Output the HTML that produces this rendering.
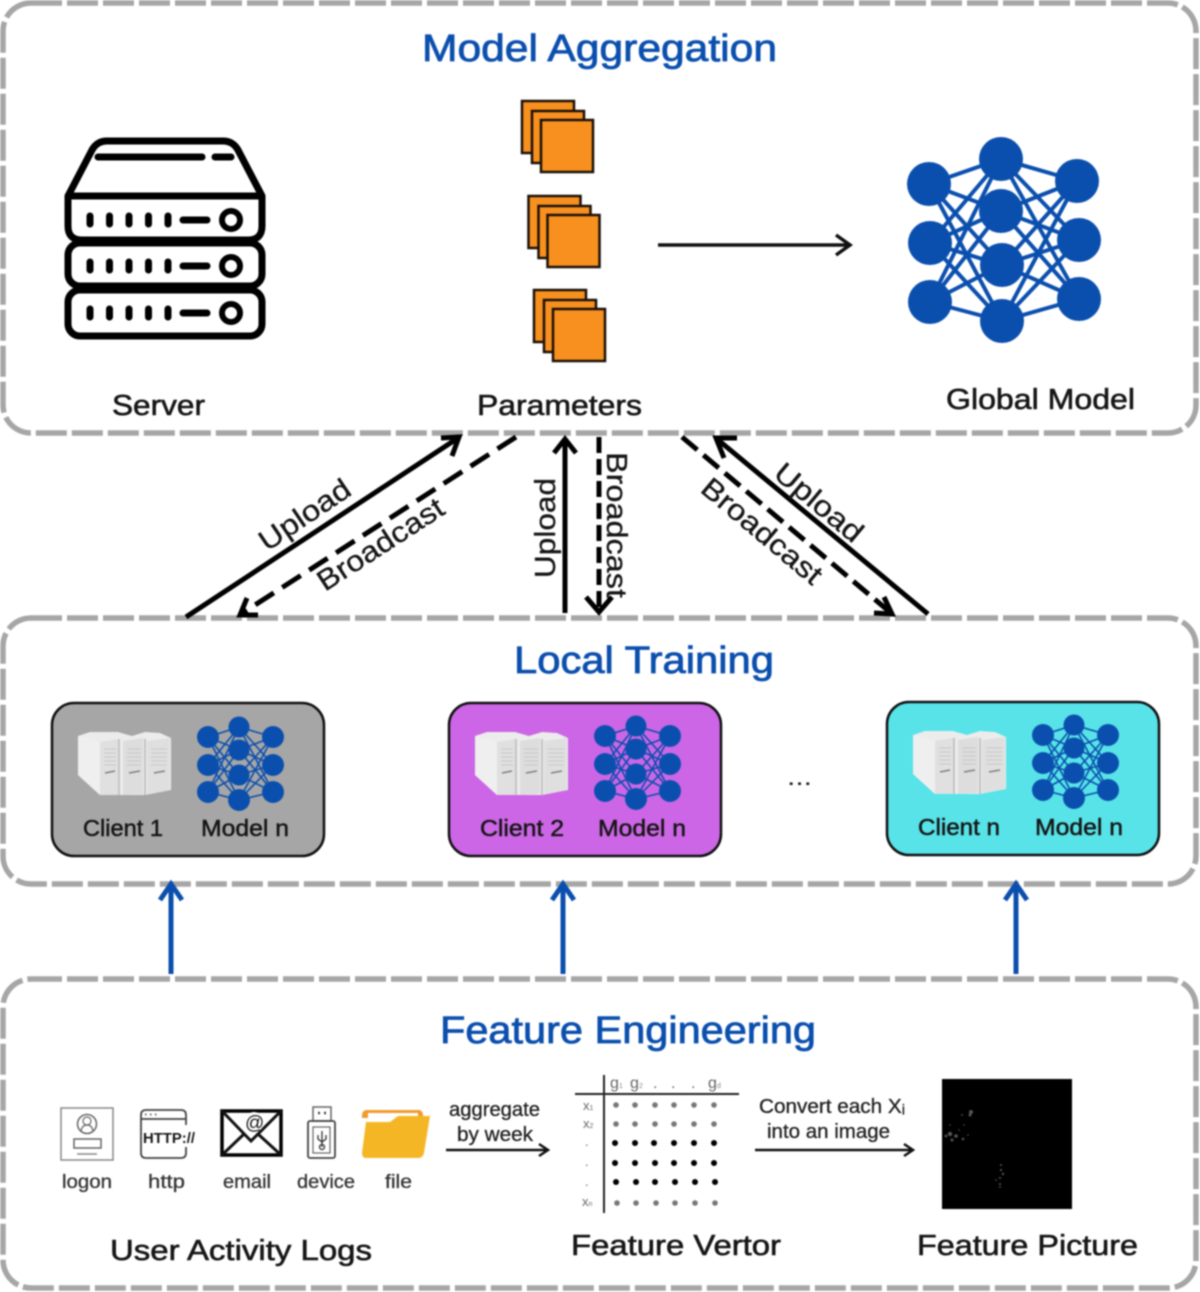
<!DOCTYPE html>
<html><head><meta charset="utf-8"><style>
html,body{margin:0;padding:0;background:#fff}
svg{display:block;filter:blur(.7px)}
text{font-family:"Liberation Sans",sans-serif;fill:#161616}
.t{font-size:38px;fill:#0b4fae;stroke:#0b4fae;stroke-width:.8}
.l{font-size:29px;stroke:#161616;stroke-width:.6}
.m{font-size:23px;stroke:#161616;stroke-width:.5}
.s{font-size:19px;fill:#333;stroke:#333;stroke-width:.3}
.a{font-size:20px;fill:#222;stroke:#222;stroke-width:.3}
.g{font-size:13px;fill:#666}
.c{font-size:29px;stroke:#111;stroke-width:.3}
</style></head><body>
<svg width="1200" height="1292" viewBox="0 0 1200 1292" xmlns="http://www.w3.org/2000/svg">
<defs>
<g id="nn">
<path d="M208 737L239 727M208 737L239 750M208 737L239 775M208 737L239 800M208 765L239 727M208 765L239 750M208 765L239 775M208 765L239 800M208 792L239 727M208 792L239 750M208 792L239 775M208 792L239 800M273 737L239 727M273 737L239 750M273 737L239 775M273 737L239 800M273 765L239 727M273 765L239 750M273 765L239 775M273 765L239 800M273 792L239 727M273 792L239 750M273 792L239 775M273 792L239 800" stroke="#0b4fae" stroke-width="1.600" fill="none"/>
<g fill="#0b4fae"><circle cx="208" cy="737" r="11"/><circle cx="208" cy="765" r="11"/><circle cx="208" cy="792" r="11"/><circle cx="239" cy="727" r="10.500"/><circle cx="239" cy="750" r="10.500"/><circle cx="239" cy="775" r="10.500"/><circle cx="239" cy="800" r="11"/><circle cx="273" cy="737" r="11"/><circle cx="273" cy="765" r="11"/><circle cx="273" cy="792" r="11"/></g>
</g>
<g id="towers">
<path d="M78 736L90 732L118 732L132 736L145 732L160 733L171 738L171 790L145 795L120 795L100 795L78 775Z" fill="#ececec"/>
<path d="M100 742L118 739L118 795L100 795Z" fill="#e0e0e0"/>
<path d="M123 741L143 738L143 794L123 795Z" fill="#dddddd"/>
<path d="M147 741L170 738L170 790L147 794Z" fill="#dfdfdf"/>
<path d="M78 736L100 742L100 795L78 775Z" fill="#efefef"/>
<path d="M104 749H116M104 753H116M104 757H116M104 761H116M104 765H116M127 749H141M127 753H141M127 757H141M127 761H141M127 765H141M151 749H167M151 753H167M151 757H167M151 761H167M151 765H167" stroke="#c8c8c8" stroke-width="1.100"/>
<path d="M105 773L115 771M129 773L140 771M154 773L165 771" stroke="#808080" stroke-width="1.600"/>
<path d="M119 739V795M145 739V795" stroke="#c4c4c4" stroke-width="2"/>
</g>
<g id="unit">
<path d="M90 -10V-2M109.500 -10V-2M129 -10V-2M148.500 -10V-2M168 -10V-2" stroke="#000" stroke-width="7" stroke-linecap="round"/>
<path d="M183 -6H207" stroke="#000" stroke-width="7" stroke-linecap="round"/>
<circle cx="231" cy="-6" r="9" fill="none" stroke="#000" stroke-width="6"/>
</g>
<g id="stack" fill="#f7901e" stroke="#1a1008" stroke-width="2.500">
<rect x="522" y="101" width="52" height="52"/><rect x="532" y="111" width="52" height="52"/><rect x="541" y="120" width="52" height="52"/>
</g>
</defs>

<g fill="none" stroke="#a6a6a6" stroke-width="5.500" stroke-dasharray="31 5">
<rect x="3" y="3" width="1193" height="430" rx="28"/>
<rect x="3" y="618" width="1193" height="266" rx="28"/>
<rect x="3" y="979" width="1193" height="309" rx="28"/>
</g>

<text class="t" x="422" y="61" textLength="355" lengthAdjust="spacingAndGlyphs">Model Aggregation</text>
<text class="t" x="514" y="673" textLength="260" lengthAdjust="spacingAndGlyphs">Local Training</text>
<text class="t" x="440" y="1043" textLength="376" lengthAdjust="spacingAndGlyphs">Feature Engineering</text>

<g fill="none" stroke="#000" stroke-width="7" stroke-linejoin="round">
<path d="M68 196L92 150Q97 141 107 141H223Q233 141 238 150L262 196V226Q262 240 248 240H82Q68 240 68 226Z"/>
<path d="M68 196H262"/>
<rect x="68" y="243" width="194" height="43" rx="12"/>
<rect x="68" y="290" width="194" height="46" rx="12"/>
</g>
<path d="M98 157H202M215 157H231" stroke="#000" stroke-width="7" stroke-linecap="round"/>
<use href="#unit" y="226"/><use href="#unit" y="272"/><use href="#unit" y="319"/>

<use href="#stack"/><use href="#stack" x="6.500" y="95"/><use href="#stack" x="12" y="189"/>

<path d="M658 245H850M836 235L850 245L836 255" fill="none" stroke="#111" stroke-width="3.500"/>

<g stroke="#0b4fae" stroke-width="4" fill="none">
<path d="M929 184L1001 159M929 184L1001 211M929 184L1002 265M929 184L1002 321M930 243L1001 159M930 243L1001 211M930 243L1002 265M930 243L1002 321M930 302L1001 159M930 302L1001 211M930 302L1002 265M930 302L1002 321M1077 181L1001 159M1077 181L1001 211M1077 181L1002 265M1077 181L1002 321M1079 240L1001 159M1079 240L1001 211M1079 240L1002 265M1079 240L1002 321M1079 299L1001 159M1079 299L1001 211M1079 299L1002 265M1079 299L1002 321"/>
</g>
<g fill="#0b4fae"><circle cx="929" cy="184" r="22"/><circle cx="930" cy="243" r="22"/><circle cx="930" cy="302" r="22"/><circle cx="1001" cy="159" r="22"/><circle cx="1001" cy="211" r="22"/><circle cx="1002" cy="265" r="22"/><circle cx="1002" cy="321" r="22"/><circle cx="1077" cy="181" r="22"/><circle cx="1079" cy="240" r="22"/><circle cx="1079" cy="299" r="22"/></g>

<text class="l" x="112" y="415" textLength="93" lengthAdjust="spacingAndGlyphs">Server</text>
<text class="l" x="477" y="415" textLength="165" lengthAdjust="spacingAndGlyphs">Parameters</text>
<text class="l" x="946" y="409" textLength="189" lengthAdjust="spacingAndGlyphs">Global Model</text>

<g fill="none" stroke="#000" stroke-width="5">
<path d="M186 617L458 438M441 438L459 437L452 456"/>
<path d="M565 613V440M554 453L565 439L576 453"/>
<path d="M928 614L717 439M737 438L716 438L724 458"/>
<path d="M516 437L241 614" stroke-dasharray="22 10"/>
<path d="M247 598L240 615L258 615"/>
<path d="M599 437V611" stroke-dasharray="16 6"/>
<path d="M586 597L599 612L612 597"/>
<path d="M682 437L891 613" stroke-dasharray="20 8"/>
<path d="M874 613L892 614L884 597"/>
</g>

<text class="c" transform="translate(267 552) rotate(-34)" textLength="104" lengthAdjust="spacingAndGlyphs">Upload</text>
<text class="c" transform="translate(325 592) rotate(-33)" textLength="145" lengthAdjust="spacingAndGlyphs">Broadcast</text>
<text class="c" transform="translate(555 578) rotate(-90)" textLength="100" lengthAdjust="spacingAndGlyphs">Upload</text>
<text class="c" transform="translate(607 452) rotate(90)" textLength="146" lengthAdjust="spacingAndGlyphs">Broadcast</text>
<text class="c" transform="translate(699 491) rotate(40)" textLength="148" lengthAdjust="spacingAndGlyphs">Broadcast</text>
<text class="c" transform="translate(772 476) rotate(40)" textLength="106" lengthAdjust="spacingAndGlyphs">Upload</text>

<g stroke="#111" stroke-width="2.500">
<rect x="52" y="703" width="272" height="153" rx="22" fill="#a6a6a6"/>
<rect x="449" y="703" width="272" height="153" rx="22" fill="#cc66e6"/>
<rect x="887" y="702" width="272" height="153" rx="22" fill="#57e3e8"/>
</g>
<use href="#towers"/><use href="#towers" x="397"/><use href="#towers" x="835" y="-1"/>
<use href="#nn"/><use href="#nn" x="397" y="-1"/><use href="#nn" x="835" y="-2"/>
<text class="m" x="83" y="836" textLength="80" lengthAdjust="spacingAndGlyphs">Client 1</text>
<text class="m" x="201" y="836" textLength="88" lengthAdjust="spacingAndGlyphs">Model n</text>
<text class="m" x="480" y="836" textLength="84" lengthAdjust="spacingAndGlyphs">Client 2</text>
<text class="m" x="598" y="836" textLength="88" lengthAdjust="spacingAndGlyphs">Model n</text>
<text class="m" x="918" y="835" textLength="82" lengthAdjust="spacingAndGlyphs">Client n</text>
<text class="m" x="1035" y="835" textLength="88" lengthAdjust="spacingAndGlyphs">Model n</text>
<text font-size="24" x="787" y="785" textLength="25" lengthAdjust="spacingAndGlyphs">...</text>

<g fill="none" stroke="#0b4fae" stroke-width="5">
<path d="M171 974V884M160 900L171 884L182 900"/>
<path d="M563 974V884M552 900L563 884L574 900"/>
<path d="M1016 974V884M1005 900L1016 884L1027 900"/>
</g>

<!-- logon -->
<rect x="61" y="1108" width="52" height="52" fill="#fff" stroke="#888" stroke-width="1.500"/>
<circle cx="87" cy="1124" r="9.500" fill="none" stroke="#666" stroke-width="1.500"/>
<path d="M81 1131Q82 1125 87 1125Q92 1125 93 1131" fill="none" stroke="#666" stroke-width="1.200"/>
<circle cx="87" cy="1121" r="4" fill="none" stroke="#666" stroke-width="1.200"/>
<rect x="74" y="1139" width="27" height="9" fill="none" stroke="#666" stroke-width="1.500"/>
<path d="M77 1154H97" stroke="#888" stroke-width="1.500"/>
<!-- http -->
<path d="M186 1125V1115Q186 1110 181 1110H146Q141 1110 141 1115V1153Q141 1158 146 1158H181Q186 1158 186 1153V1147M141 1119H186" fill="none" stroke="#444" stroke-width="1.800"/>
<path d="M145 1114.500h1.500M150 1114.500h1.500M155 1114.500h1.500" stroke="#555" stroke-width="1.800"/>
<text x="143" y="1143" font-size="15" font-weight="bold" fill="#333" textLength="52" lengthAdjust="spacingAndGlyphs">HTTP://</text>
<!-- email -->
<rect x="222" y="1111" width="59" height="44" fill="#fff" stroke="#000" stroke-width="3.500"/>
<path d="M222 1111L251 1141L281 1111M222 1155L244 1134M281 1155L258 1134" fill="none" stroke="#111" stroke-width="3"/>
<circle cx="254" cy="1122" r="10" fill="#fff" stroke="none"/>
<text x="245" y="1129" font-size="19" fill="#222">@</text>
<!-- device -->
<rect x="313" y="1107" width="18" height="14" fill="none" stroke="#666" stroke-width="1.500"/>
<path d="M318 1113h2M324 1113h2" stroke="#444" stroke-width="2.500"/>
<rect x="308" y="1121" width="27" height="37" rx="2" fill="none" stroke="#444" stroke-width="1.800"/>
<rect x="313" y="1127" width="17" height="26" fill="none" stroke="#666" stroke-width="1.200"/>
<path d="M322 1131V1147M318 1135V1139L322 1142L326 1139V1135" fill="none" stroke="#333" stroke-width="1.300"/>
<circle cx="322" cy="1147" r="2.500" fill="none" stroke="#333" stroke-width="1.300"/>
<!-- file -->
<path d="M362 1116Q362 1110 367 1110H420Q423 1112 423 1115L423 1118H362Z" fill="#ef9b2e"/>
<path d="M368 1113H418V1122H368Z" fill="#fff"/>
<path d="M366 1122H390L398 1116H430L424 1153Q423 1158 418 1158H366Q362 1158 362 1153Z" fill="#f5b625"/>
<text class="s" x="62" y="1188" textLength="50" lengthAdjust="spacingAndGlyphs">logon</text>
<text class="s" x="148" y="1188" textLength="37" lengthAdjust="spacingAndGlyphs">http</text>
<text class="s" x="223" y="1188" textLength="48" lengthAdjust="spacingAndGlyphs">email</text>
<text class="s" x="297" y="1188" textLength="58" lengthAdjust="spacingAndGlyphs">device</text>
<text class="s" x="385" y="1188" textLength="27" lengthAdjust="spacingAndGlyphs">file</text>

<text class="a" x="449" y="1116" textLength="91" lengthAdjust="spacingAndGlyphs">aggregate</text>
<text class="a" x="457" y="1141" textLength="76" lengthAdjust="spacingAndGlyphs">by week</text>
<path d="M446 1150H548M539 1144L548 1150L539 1156" fill="none" stroke="#111" stroke-width="2.500"/>

<!-- table -->
<path d="M604 1075V1213M575 1094H739" stroke="#222" stroke-width="2"/>
<text class="g" x="610" y="1088" style="font-size:16px">g</text><text x="619" y="1088" style="font-size:7px;fill:#888">1</text>
<text class="g" x="630" y="1088" style="font-size:16px">g</text><text x="639" y="1088" style="font-size:7px;fill:#888">2</text>
<text class="g" x="653" y="1088" style="font-size:16px">.</text><text class="g" x="671" y="1088" style="font-size:16px">.</text><text class="g" x="691" y="1088" style="font-size:16px">.</text>
<text class="g" x="708" y="1088" style="font-size:16px">g</text><text x="717" y="1088" style="font-size:7px;fill:#888">d</text>
<text class="g" x="583" y="1110">x<tspan font-size="7">1</tspan></text>
<text class="g" x="583" y="1128">x<tspan font-size="7">2</tspan></text>
<text class="g" x="585" y="1146">.</text><text class="g" x="585" y="1166">.</text><text class="g" x="585" y="1186">.</text>
<text class="g" x="582" y="1206">x<tspan font-size="7">n</tspan></text>
<g fill="#777">
<circle cx="616" cy="1105" r="2.800"/><circle cx="635" cy="1105" r="2.800"/><circle cx="655" cy="1105" r="2.800"/><circle cx="674" cy="1105" r="2.800"/><circle cx="694" cy="1105" r="2.800"/><circle cx="714" cy="1105" r="2.800"/>
<circle cx="616" cy="1124" r="2.800"/><circle cx="635" cy="1124" r="2.800"/><circle cx="655" cy="1124" r="2.800"/><circle cx="674" cy="1124" r="2.800"/><circle cx="694" cy="1124" r="2.800"/><circle cx="714" cy="1124" r="2.800"/>
<circle cx="617" cy="1203" r="2.800"/><circle cx="636" cy="1203" r="2.800"/><circle cx="656" cy="1203" r="2.800"/><circle cx="675" cy="1203" r="2.800"/><circle cx="695" cy="1203" r="2.800"/><circle cx="715" cy="1203" r="2.800"/>
</g>
<g fill="#000">
<circle cx="615" cy="1143" r="3"/><circle cx="635" cy="1143" r="3"/><circle cx="654" cy="1143" r="3"/><circle cx="674" cy="1143" r="3"/><circle cx="694" cy="1143" r="3"/><circle cx="714" cy="1143" r="3"/>
<circle cx="615" cy="1163" r="3"/><circle cx="635" cy="1163" r="3"/><circle cx="655" cy="1163" r="3"/><circle cx="674" cy="1163" r="3"/><circle cx="694" cy="1163" r="3"/><circle cx="714" cy="1163" r="3"/>
<circle cx="616" cy="1182" r="3"/><circle cx="636" cy="1182" r="3"/><circle cx="655" cy="1182" r="3"/><circle cx="675" cy="1182" r="3"/><circle cx="695" cy="1182" r="3"/><circle cx="715" cy="1182" r="3"/>
</g>

<text class="a" x="759" y="1113" textLength="146" lengthAdjust="spacingAndGlyphs">Convert each Xᵢ</text>
<text class="a" x="767" y="1138" textLength="123" lengthAdjust="spacingAndGlyphs">into an image</text>
<path d="M755 1150H913M904 1144L913 1150L904 1156" fill="none" stroke="#111" stroke-width="2.500"/>

<rect x="942" y="1079" width="130" height="130" fill="#000"/>
<g fill="#555">
<circle cx="950" cy="1125" r=".8"/><circle cx="971" cy="1112" r="2"/><circle cx="970" cy="1115" r="1.500"/><circle cx="962" cy="1115" r=".9"/><circle cx="956" cy="1136" r="1.800"/><circle cx="950" cy="1134" r="2.200"/><circle cx="952" cy="1140" r="1.500"/><circle cx="963" cy="1139" r="1.300"/><circle cx="964" cy="1125" r=".8"/><circle cx="959" cy="1130" r=".8"/><circle cx="968" cy="1135" r=".8"/><circle cx="946" cy="1136" r="1.400"/>
<circle cx="1001" cy="1165" r="1"/><circle cx="1001" cy="1170" r="1.100"/><circle cx="1003" cy="1174" r="1.200"/><circle cx="1000" cy="1178" r="1"/><circle cx="996" cy="1180" r=".8"/><circle cx="1000" cy="1184" r="1"/><circle cx="1000" cy="1187" r=".9"/>
</g>

<text class="l" x="110" y="1260" textLength="262" lengthAdjust="spacingAndGlyphs">User Activity Logs</text>
<text class="l" x="571" y="1255" textLength="210" lengthAdjust="spacingAndGlyphs">Feature Vertor</text>
<text class="l" x="917" y="1255" textLength="221" lengthAdjust="spacingAndGlyphs">Feature Picture</text>
</svg>
</body></html>
